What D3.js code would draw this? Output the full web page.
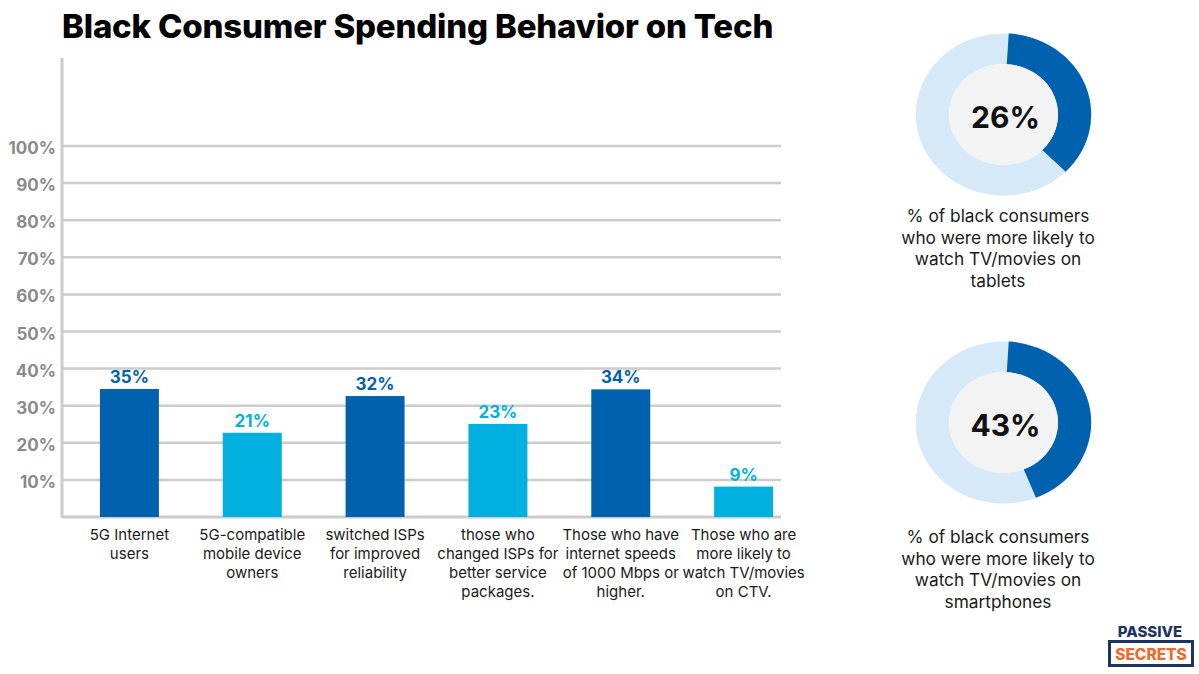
<!DOCTYPE html>
<html>
<head>
<meta charset="utf-8">
<script src="https://cdn.jsdelivr.net/npm/d3@7"></script>
<style>
  body { margin: 0; background: #fff; }
  svg { display: block; font-family: Inter, "Noto Sans", sans-serif; }
</style>
</head>
<body>
<div id="chart"></div>
<script>
// bar chart data
const categories = [
    ["5G Internet", "users"],
    ["5G-compatible", "mobile device", "owners"],
    ["switched ISPs", "for improved", "reliability"],
    ["those who", "changed ISPs for", "better service", "packages."],
    ["Those who have", "internet speeds", "of 1000 Mbps or", "higher."],
    ["Those who are", "more likely to", "watch TV/movies", "on CTV."]
];
// bar heights as drawn in the picture, and the printed labels
const barValues = [34.5, 22.7, 32.6, 25.1, 34.4, 8.2];
const valueLabels = ["35%", "21%", "32%", "23%", "34%", "9%"];
const yTicks = [10, 20, 30, 40, 50, 60, 70, 80, 90, 100];

// donut data
const donutLabels = ["26%", "43%"];
const donutShares = [0.365, 0.43];
const donutCaptions = [
    ["% of black consumers", "who were more likely to", "watch TV/movies on", "tablets"],
    ["% of black consumers", "who were more likely to", "watch TV/movies on", "smartphones"]
];

const W = 1199, H = 674;
const darkBlue = "#0061ae", lightBlue = "#00b1e0";
const gridColor = "#cccccc";

const svg = d3.select("#chart").append("svg")
    .attr("width", W)
    .attr("height", H);

// title
svg.append("text")
    .attr("x", 62)
    .attr("y", 38)
    .attr("font-size", 33)
    .attr("font-weight", 800)
    .attr("letter-spacing", -0.2)
    .attr("fill", "#000")
    .text("Black Consumer Spending Behavior on Tech");

// scales
const x = d3.scaleBand()
    .domain(d3.range(categories.length))
    .range([68, 805])
    .paddingInner(0.52)
    .paddingOuter(0.26);

const y = d3.scaleLinear()
    .domain([0, 100])
    .range([517, 146]);

const plotLeft = 62, plotRight = 781;

// gridlines + y labels
const grid = svg.append("g");
grid.selectAll("line")
    .data(yTicks)
    .join("line")
    .attr("x1", plotLeft)
    .attr("x2", plotRight)
    .attr("y1", d => y(d))
    .attr("y2", d => y(d))
    .attr("stroke", gridColor)
    .attr("stroke-width", 2.5);

grid.selectAll("text")
    .data(yTicks)
    .join("text")
    .attr("x", 56)
    .attr("y", d => y(d) + 8)
    .attr("text-anchor", "end")
    .attr("font-size", 17)
    .attr("font-weight", 700)
    .attr("fill", "#8a8a8a")
    .text(d => d + "%");

// axis lines
svg.append("line")
    .attr("x1", plotLeft).attr("x2", plotLeft)
    .attr("y1", 58).attr("y2", y(0) + 1)
    .attr("stroke", gridColor).attr("stroke-width", 3);
svg.append("line")
    .attr("x1", plotLeft).attr("x2", plotRight)
    .attr("y1", y(0)).attr("y2", y(0))
    .attr("stroke", gridColor).attr("stroke-width", 3);

// bars
const barColor = i => i % 2 === 0 ? darkBlue : lightBlue;

svg.append("g").selectAll("rect")
    .data(barValues)
    .join("rect")
    .attr("x", (d, i) => x(i))
    .attr("y", d => y(d))
    .attr("width", x.bandwidth())
    .attr("height", d => y(0) - y(d))
    .attr("fill", (d, i) => barColor(i));

svg.append("g").selectAll("text")
    .data(barValues)
    .join("text")
    .attr("x", (d, i) => x(i) + x.bandwidth() / 2)
    .attr("y", d => y(d) - 6)
    .attr("text-anchor", "middle")
    .attr("font-size", 17)
    .attr("font-weight", 700)
    .attr("fill", (d, i) => barColor(i))
    .text((d, i) => valueLabels[i]);

// category labels
const catG = svg.append("g")
    .selectAll("text")
    .data(categories)
    .join("text")
    .attr("x", (d, i) => x(i) + x.bandwidth() / 2)
    .attr("y", 540)
    .attr("text-anchor", "middle")
    .attr("font-size", 15)
    .attr("fill", "#1a1a1a");

catG.selectAll("tspan")
    .data(d => d)
    .join("tspan")
    .attr("x", function () { return d3.select(this.parentNode).attr("x"); })
    .attr("dy", (d, i) => i === 0 ? 0 : 19)
    .text(d => d);

// donuts
const donutCenters = [[1003.5, 114.5], [1003.5, 422.5]];
const captionTop = [222, 543];
const rOuter = 87.7, rInner = 54.5;
const arc = d3.arc().innerRadius(rInner).outerRadius(rOuter);
const startAngle = 0.06;

donutShares.forEach((share, k) => {
    const [cx, cy] = donutCenters[k];
    const g = svg.append("g")
        .attr("transform", `translate(${cx},${cy}) scale(1,0.925)`);

    g.append("path")
        .attr("d", arc({ startAngle: 0, endAngle: 2 * Math.PI }))
        .attr("fill", "#d6e9f8");

    g.append("path")
        .attr("d", arc({ startAngle: startAngle, endAngle: startAngle + share * 2 * Math.PI }))
        .attr("fill", darkBlue);

    g.append("circle")
        .attr("r", rInner)
        .attr("fill", "#f3f3f3");

    svg.append("text")
        .attr("x", cx + 2)
        .attr("y", cy + 13)
        .attr("text-anchor", "middle")
        .attr("font-size", 30)
        .attr("font-weight", 700)
        .attr("fill", "#111")
        .text(donutLabels[k]);

    const cap = svg.append("text")
        .attr("x", 998)
        .attr("y", captionTop[k])
        .attr("text-anchor", "middle")
        .attr("font-size", 17.3)
        .attr("fill", "#1a1a1a");

    cap.selectAll("tspan")
        .data(donutCaptions[k])
        .join("tspan")
        .attr("x", 998)
        .attr("dy", (d, i) => i === 0 ? 0 : 21.7)
        .text(d => d);
});

// logo
const logo = svg.append("g");
logo.append("text")
    .attr("x", 1150)
    .attr("y", 637)
    .attr("text-anchor", "middle")
    .attr("font-size", 15)
    .attr("font-weight", 800)
    .attr("fill", "#1d3461")
    .text("PASSIVE");
logo.append("rect")
    .attr("x", 1109.5)
    .attr("y", 641.5)
    .attr("width", 83)
    .attr("height", 24)
    .attr("fill", "#fff")
    .attr("stroke", "#1d3461")
    .attr("stroke-width", 3);
logo.append("text")
    .attr("x", 1151)
    .attr("y", 660)
    .attr("text-anchor", "middle")
    .attr("font-size", 15.5)
    .attr("font-weight", 800)
    .attr("fill", "#ee6a2c")
    .text("SECRETS");
</script>
</body>
</html>
